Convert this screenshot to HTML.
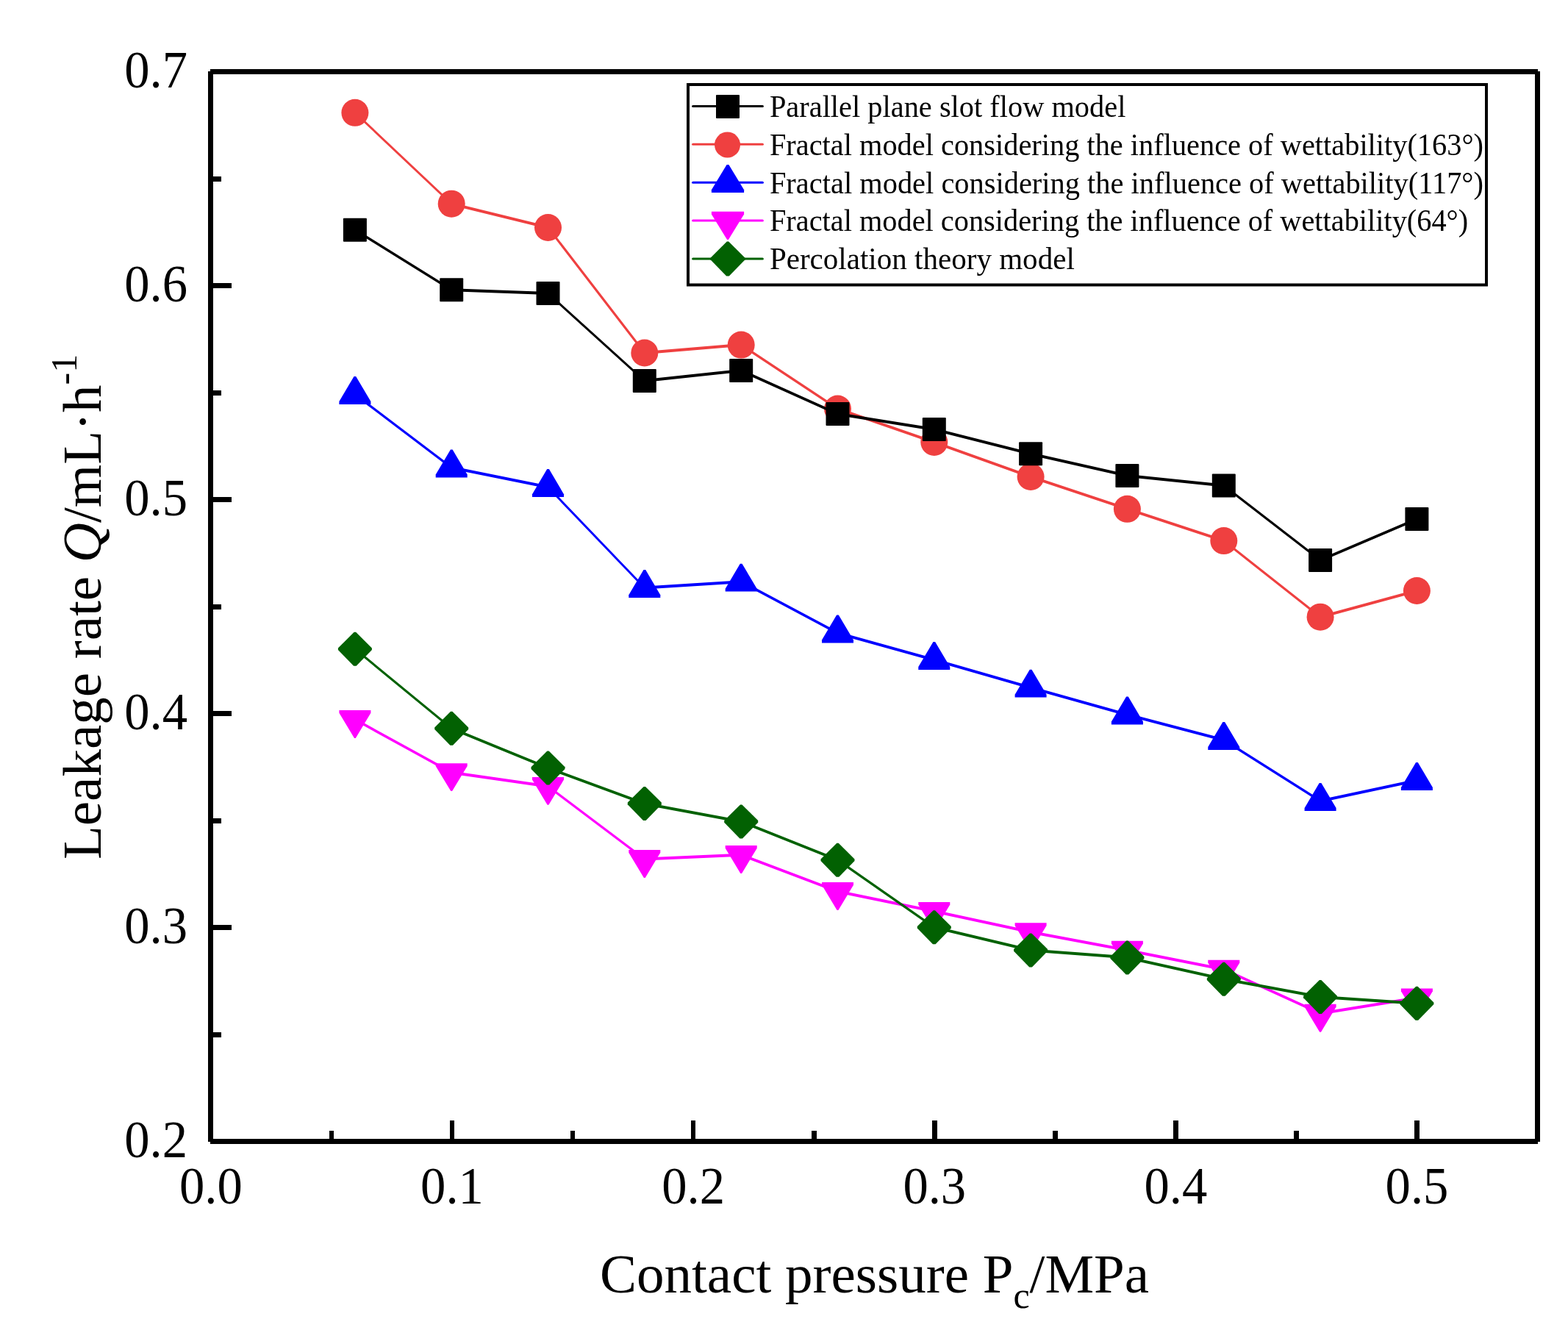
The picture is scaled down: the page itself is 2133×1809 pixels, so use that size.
<!DOCTYPE html>
<html><head><meta charset="utf-8"><title>Leakage rate vs contact pressure</title>
<style>
html,body{margin:0;padding:0;background:#fff;}
svg{display:block;}
text{font-family:"Liberation Serif","Times New Roman",serif;fill:#000;}
.t{font-size:71px;}
.ax{font-size:75px;}
.lg{font-size:41.7px;}
.sub{font-size:50px;}
</style></head>
<body>
<svg width="2133" height="1809" viewBox="0 0 2133 1809">
<rect width="2133" height="1809" fill="#fff"/>
<g fill="#000" shape-rendering="crispEdges">
<rect x="286" y="94" width="1806" height="7"/>
<rect x="286" y="1549" width="1806" height="7"/>
<rect x="283" y="97" width="7" height="1456"/>
<rect x="2088" y="97" width="7" height="1456"/>
<rect x="611.8" y="1524" width="6.5" height="25"/>
<rect x="939.9" y="1524" width="6.5" height="25"/>
<rect x="1268" y="1524" width="6.5" height="25"/>
<rect x="1596.2" y="1524" width="6.5" height="25"/>
<rect x="1924.3" y="1524" width="6.5" height="25"/>
<rect x="447.7" y="1537.5" width="6.5" height="11.5"/>
<rect x="775.8" y="1537.5" width="6.5" height="11.5"/>
<rect x="1104" y="1537.5" width="6.5" height="11.5"/>
<rect x="1432.1" y="1537.5" width="6.5" height="11.5"/>
<rect x="1760.2" y="1537.5" width="6.5" height="11.5"/>
<rect x="290" y="1258" width="25" height="7"/>
<rect x="290" y="967" width="25" height="7"/>
<rect x="290" y="676" width="25" height="7"/>
<rect x="290" y="385" width="25" height="7"/>
<rect x="290" y="1403.5" width="11" height="7"/>
<rect x="290" y="1112.5" width="11" height="7"/>
<rect x="290" y="821.5" width="11" height="7"/>
<rect x="290" y="530.5" width="11" height="7"/>
<rect x="290" y="239.5" width="11" height="7"/>
</g>
<path d="M482.9 151.3L614.2 275.2L614.2 279.2L482.9 155.3ZM614.2 275.2L745.5 307.5L745.5 311.5L614.2 279.2ZM743.5 309.5L874.8 480L878.8 480L747.5 309.5ZM876.8 478L1008.2 467.1L1008.2 471.1L876.8 482ZM1008.2 467.1L1139.5 554L1139.5 558L1008.2 471.1ZM1139.5 554L1270.8 599.4L1270.8 603.4L1139.5 558ZM1270.8 599.4L1402.1 646.5L1402.1 650.5L1270.8 603.4ZM1402.1 646.5L1533.4 690.3L1533.4 694.3L1402.1 650.5ZM1533.4 690.3L1664.8 733.6L1664.8 737.6L1533.4 694.3ZM1664.8 733.6L1796.1 837.2L1796.1 841.2L1664.8 737.6ZM1796.1 837.2L1927.4 801.5L1927.4 805.5L1796.1 841.2Z" fill="#EF4040"/>
<circle cx="482.9" cy="153.3" r="18.5" fill="#EF4040"/>
<circle cx="614.2" cy="277.2" r="18.5" fill="#EF4040"/>
<circle cx="745.5" cy="309.5" r="18.5" fill="#EF4040"/>
<circle cx="876.8" cy="480" r="18.5" fill="#EF4040"/>
<circle cx="1008.2" cy="469.1" r="18.5" fill="#EF4040"/>
<circle cx="1139.5" cy="556" r="18.5" fill="#EF4040"/>
<circle cx="1270.8" cy="601.4" r="18.5" fill="#EF4040"/>
<circle cx="1402.1" cy="648.5" r="18.5" fill="#EF4040"/>
<circle cx="1533.4" cy="692.3" r="18.5" fill="#EF4040"/>
<circle cx="1664.8" cy="735.6" r="18.5" fill="#EF4040"/>
<circle cx="1796.1" cy="839.2" r="18.5" fill="#EF4040"/>
<circle cx="1927.4" cy="803.5" r="18.5" fill="#EF4040"/>
<path d="M482.9 310.7L614.2 392.2L614.2 396.2L482.9 314.7ZM614.2 392.2L745.5 397.1L745.5 401.1L614.2 396.2ZM745.5 397.1L876.8 516L876.8 520L745.5 401.1ZM876.8 516L1008.2 501.9L1008.2 505.9L876.8 520ZM1008.2 501.9L1139.5 560.9L1139.5 564.9L1008.2 505.9ZM1139.5 560.9L1270.8 581.9L1270.8 585.9L1139.5 564.9ZM1270.8 581.9L1402.1 615.3L1402.1 619.3L1270.8 585.9ZM1402.1 615.3L1533.4 645L1533.4 649L1402.1 619.3ZM1533.4 645L1664.8 658.4L1664.8 662.4L1533.4 649ZM1664.8 658.4L1796.1 759.9L1796.1 763.9L1664.8 662.4ZM1796.1 759.9L1927.4 703.9L1927.4 707.9L1796.1 763.9Z" fill="#000000"/>
<rect x="466.9" y="296.7" width="32" height="32" rx="1" fill="#000000"/>
<rect x="598.2" y="378.2" width="32" height="32" rx="1" fill="#000000"/>
<rect x="729.5" y="383.1" width="32" height="32" rx="1" fill="#000000"/>
<rect x="860.8" y="502" width="32" height="32" rx="1" fill="#000000"/>
<rect x="992.2" y="487.9" width="32" height="32" rx="1" fill="#000000"/>
<rect x="1123.5" y="546.9" width="32" height="32" rx="1" fill="#000000"/>
<rect x="1254.8" y="567.9" width="32" height="32" rx="1" fill="#000000"/>
<rect x="1386.1" y="601.3" width="32" height="32" rx="1" fill="#000000"/>
<rect x="1517.4" y="631" width="32" height="32" rx="1" fill="#000000"/>
<rect x="1648.8" y="644.4" width="32" height="32" rx="1" fill="#000000"/>
<rect x="1780.1" y="745.9" width="32" height="32" rx="1" fill="#000000"/>
<rect x="1911.4" y="689.9" width="32" height="32" rx="1" fill="#000000"/>
<path d="M482.9 534.5L614.2 634L614.2 638L482.9 538.5ZM614.2 634L745.5 660.6L745.5 664.6L614.2 638ZM743.5 662.6L874.8 799.6L878.8 799.6L747.5 662.6ZM876.8 797.6L1008.2 789.2L1008.2 793.2L876.8 801.6ZM1008.2 789.2L1139.5 859L1139.5 863L1008.2 793.2ZM1139.5 859L1270.8 895.5L1270.8 899.5L1139.5 863ZM1270.8 895.5L1402.1 933.2L1402.1 937.2L1270.8 899.5ZM1402.1 933.2L1533.4 970L1533.4 974L1402.1 937.2ZM1533.4 970L1664.8 1004.5L1664.8 1008.5L1533.4 974ZM1664.8 1004.5L1796.1 1087.5L1796.1 1091.5L1664.8 1008.5ZM1796.1 1087.5L1927.4 1059.5L1927.4 1063.5L1796.1 1091.5Z" fill="#0000FF"/>
<path d="M481.5 512L484.2 512L504.4 546.1L504.4 549.9L461.4 549.9L461.4 546.1Z" fill="#0000FF"/>
<path d="M612.9 611.5L615.6 611.5L635.7 645.6L635.7 649.4L592.7 649.4L592.7 645.6Z" fill="#0000FF"/>
<path d="M744.2 638.1L746.9 638.1L767 672.2L767 676L724 676L724 672.2Z" fill="#0000FF"/>
<path d="M875.5 775.1L878.2 775.1L898.3 809.2L898.3 813L855.3 813L855.3 809.2Z" fill="#0000FF"/>
<path d="M1006.8 766.7L1009.5 766.7L1029.7 800.8L1029.7 804.6L986.7 804.6L986.7 800.8Z" fill="#0000FF"/>
<path d="M1138.1 836.5L1140.8 836.5L1161 870.6L1161 874.4L1118 874.4L1118 870.6Z" fill="#0000FF"/>
<path d="M1269.5 873L1272.1 873L1292.3 907.1L1292.3 910.9L1249.3 910.9L1249.3 907.1Z" fill="#0000FF"/>
<path d="M1400.8 910.7L1403.5 910.7L1423.6 944.8L1423.6 948.6L1380.6 948.6L1380.6 944.8Z" fill="#0000FF"/>
<path d="M1532.1 947.5L1534.8 947.5L1554.9 981.6L1554.9 985.4L1511.9 985.4L1511.9 981.6Z" fill="#0000FF"/>
<path d="M1663.4 982L1666.1 982L1686.3 1016.1L1686.3 1019.9L1643.3 1019.9L1643.3 1016.1Z" fill="#0000FF"/>
<path d="M1794.7 1065L1797.4 1065L1817.6 1099.1L1817.6 1102.9L1774.6 1102.9L1774.6 1099.1Z" fill="#0000FF"/>
<path d="M1926.1 1037L1928.8 1037L1948.9 1071.1L1948.9 1074.9L1905.9 1074.9L1905.9 1071.1Z" fill="#0000FF"/>
<path d="M482.9 976.6L614.2 1048.8L614.2 1052.8L482.9 980.6ZM614.2 1048.8L745.5 1067.5L745.5 1071.5L614.2 1052.8ZM745.5 1067.5L876.8 1166.6L876.8 1170.6L745.5 1071.5ZM876.8 1166.6L1008.2 1160.7L1008.2 1164.7L876.8 1170.6ZM1008.2 1160.7L1139.5 1210.6L1139.5 1214.6L1008.2 1164.7ZM1139.5 1210.6L1270.8 1237.5L1270.8 1241.5L1139.5 1214.6ZM1270.8 1237.5L1402.1 1265.8L1402.1 1269.8L1270.8 1241.5ZM1402.1 1265.8L1533.4 1290.4L1533.4 1294.4L1402.1 1269.8ZM1533.4 1290.4L1664.8 1316.4L1664.8 1320.4L1533.4 1294.4ZM1664.8 1316.4L1796.1 1376.4L1796.1 1380.4L1664.8 1320.4ZM1796.1 1376.4L1927.4 1355.2L1927.4 1359.2L1796.1 1380.4Z" fill="#FF00FF"/>
<path d="M461.4 966L504.4 966L504.4 969.7L483.8 1003.9L482 1003.9L461.4 969.7Z" fill="#FF00FF"/>
<path d="M592.7 1038.2L635.7 1038.2L635.7 1041.9L615.1 1076.1L613.3 1076.1L592.7 1041.9Z" fill="#FF00FF"/>
<path d="M724 1056.9L767 1056.9L767 1060.6L746.4 1094.8L744.6 1094.8L724 1060.6Z" fill="#FF00FF"/>
<path d="M855.3 1156L898.3 1156L898.3 1159.7L877.7 1193.9L875.9 1193.9L855.3 1159.7Z" fill="#FF00FF"/>
<path d="M986.7 1150.1L1029.7 1150.1L1029.7 1153.8L1009.1 1188L1007.3 1188L986.7 1153.8Z" fill="#FF00FF"/>
<path d="M1118 1200L1161 1200L1161 1203.7L1140.4 1237.9L1138.6 1237.9L1118 1203.7Z" fill="#FF00FF"/>
<path d="M1249.3 1226.9L1292.3 1226.9L1292.3 1230.6L1271.7 1264.8L1269.9 1264.8L1249.3 1230.6Z" fill="#FF00FF"/>
<path d="M1380.6 1255.2L1423.6 1255.2L1423.6 1258.9L1403 1293.1L1401.2 1293.1L1380.6 1258.9Z" fill="#FF00FF"/>
<path d="M1511.9 1279.8L1554.9 1279.8L1554.9 1283.5L1534.3 1317.7L1532.5 1317.7L1511.9 1283.5Z" fill="#FF00FF"/>
<path d="M1643.3 1305.8L1686.3 1305.8L1686.3 1309.5L1665.7 1343.7L1663.9 1343.7L1643.3 1309.5Z" fill="#FF00FF"/>
<path d="M1774.6 1365.8L1817.6 1365.8L1817.6 1369.5L1797 1403.7L1795.2 1403.7L1774.6 1369.5Z" fill="#FF00FF"/>
<path d="M1905.9 1344.6L1948.9 1344.6L1948.9 1348.3L1928.3 1382.5L1926.5 1382.5L1905.9 1348.3Z" fill="#FF00FF"/>
<path d="M482.9 880.8L614.2 988.8L614.2 992.8L482.9 884.8ZM614.2 988.8L745.5 1042.6L745.5 1046.6L614.2 992.8ZM745.5 1042.6L876.8 1090.9L876.8 1094.9L745.5 1046.6ZM876.8 1090.9L1008.2 1115.4L1008.2 1119.4L876.8 1094.9ZM1008.2 1115.4L1139.5 1167.8L1139.5 1171.8L1008.2 1119.4ZM1139.5 1167.8L1270.8 1259.3L1270.8 1263.3L1139.5 1171.8ZM1270.8 1259.3L1402.1 1290.4L1402.1 1294.4L1270.8 1263.3ZM1402.1 1290.4L1533.4 1300.4L1533.4 1304.4L1402.1 1294.4ZM1533.4 1300.4L1664.8 1329.7L1664.8 1333.7L1533.4 1304.4ZM1664.8 1329.7L1796.1 1354L1796.1 1358L1664.8 1333.7ZM1796.1 1354L1927.4 1362.8L1927.4 1366.8L1796.1 1358Z" fill="#026102"/>
<path d="M481.7 859.8L484.1 859.8L505.9 881.5L505.9 884.1L484.7 905.8L481.1 905.8L459.9 884.1L459.9 881.5Z" fill="#026102"/>
<path d="M613 967.8L615.4 967.8L637.2 989.5L637.2 992.1L616 1013.8L612.4 1013.8L591.2 992.1L591.2 989.5Z" fill="#026102"/>
<path d="M744.3 1021.6L746.7 1021.6L768.5 1043.3L768.5 1045.9L747.3 1067.6L743.7 1067.6L722.5 1045.9L722.5 1043.3Z" fill="#026102"/>
<path d="M875.6 1069.9L878 1069.9L899.8 1091.6L899.8 1094.2L878.6 1115.9L875 1115.9L853.8 1094.2L853.8 1091.6Z" fill="#026102"/>
<path d="M1007 1094.4L1009.4 1094.4L1031.2 1116.1L1031.2 1118.7L1010 1140.4L1006.4 1140.4L985.2 1118.7L985.2 1116.1Z" fill="#026102"/>
<path d="M1138.3 1146.8L1140.7 1146.8L1162.5 1168.5L1162.5 1171.1L1141.3 1192.8L1137.7 1192.8L1116.5 1171.1L1116.5 1168.5Z" fill="#026102"/>
<path d="M1269.6 1238.3L1272 1238.3L1293.8 1260L1293.8 1262.6L1272.6 1284.3L1269 1284.3L1247.8 1262.6L1247.8 1260Z" fill="#026102"/>
<path d="M1400.9 1269.4L1403.3 1269.4L1425.1 1291.1L1425.1 1293.7L1403.9 1315.4L1400.3 1315.4L1379.1 1293.7L1379.1 1291.1Z" fill="#026102"/>
<path d="M1532.2 1279.4L1534.6 1279.4L1556.4 1301.1L1556.4 1303.7L1535.2 1325.4L1531.6 1325.4L1510.4 1303.7L1510.4 1301.1Z" fill="#026102"/>
<path d="M1663.6 1308.7L1666 1308.7L1687.8 1330.4L1687.8 1333L1666.6 1354.7L1663 1354.7L1641.8 1333L1641.8 1330.4Z" fill="#026102"/>
<path d="M1794.9 1333L1797.3 1333L1819.1 1354.7L1819.1 1357.3L1797.9 1379L1794.3 1379L1773.1 1357.3L1773.1 1354.7Z" fill="#026102"/>
<path d="M1926.2 1341.8L1928.6 1341.8L1950.4 1363.5L1950.4 1366.1L1929.2 1387.8L1925.6 1387.8L1904.4 1366.1L1904.4 1363.5Z" fill="#026102"/>
<text x="255" y="1574" text-anchor="end" class="t" textLength="85.82" lengthAdjust="spacingAndGlyphs">0.2</text>
<text x="255" y="1283" text-anchor="end" class="t" textLength="85.82" lengthAdjust="spacingAndGlyphs">0.3</text>
<text x="255" y="992" text-anchor="end" class="t" textLength="85.82" lengthAdjust="spacingAndGlyphs">0.4</text>
<text x="255" y="701" text-anchor="end" class="t" textLength="85.82" lengthAdjust="spacingAndGlyphs">0.5</text>
<text x="255" y="410" text-anchor="end" class="t" textLength="85.82" lengthAdjust="spacingAndGlyphs">0.6</text>
<text x="255" y="119" text-anchor="end" class="t" textLength="85.82" lengthAdjust="spacingAndGlyphs">0.7</text>
<text x="286.9" y="1637" text-anchor="middle" class="t" textLength="85.82" lengthAdjust="spacingAndGlyphs">0.0</text>
<text x="615" y="1637" text-anchor="middle" class="t" textLength="85.82" lengthAdjust="spacingAndGlyphs">0.1</text>
<text x="943.1" y="1637" text-anchor="middle" class="t" textLength="85.82" lengthAdjust="spacingAndGlyphs">0.2</text>
<text x="1271.3" y="1637" text-anchor="middle" class="t" textLength="85.82" lengthAdjust="spacingAndGlyphs">0.3</text>
<text x="1599.4" y="1637" text-anchor="middle" class="t" textLength="85.82" lengthAdjust="spacingAndGlyphs">0.4</text>
<text x="1927.5" y="1637" text-anchor="middle" class="t" textLength="85.82" lengthAdjust="spacingAndGlyphs">0.5</text>
<text x="816" y="1758" class="ax">Contact pressure P<tspan class="sub" dy="21">c</tspan><tspan dy="-21">/MPa</tspan></text>
<text transform="translate(136.5,1169) rotate(-90)" class="ax">Leakage rate <tspan font-style="italic">Q</tspan>/mL·h<tspan class="sub" dy="-33">-1</tspan></text>
<rect x="936" y="115" width="1086" height="272.5" fill="#fff" stroke="#000" stroke-width="4"/>
<line x1="942.6" y1="144.4" x2="1037.4" y2="144.4" stroke="#000000" stroke-width="3" stroke-linecap="round"/>
<rect x="974" y="129" width="32" height="32" rx="1" fill="#000000"/>
<text x="1046.9" y="159" class="lg" textLength="484.5" lengthAdjust="spacingAndGlyphs">Parallel plane slot flow model</text>
<line x1="942.6" y1="196.3" x2="1037.4" y2="196.3" stroke="#EF4040" stroke-width="3" stroke-linecap="round"/>
<circle cx="989.5" cy="197" r="17.5" fill="#EF4040"/>
<text x="1046.9" y="210.8" class="lg" textLength="971.1" lengthAdjust="spacingAndGlyphs">Fractal model considering the influence of wettability(163°)</text>
<line x1="942.6" y1="248.2" x2="1037.4" y2="248.2" stroke="#0000FF" stroke-width="3" stroke-linecap="round"/>
<path d="M988.6 223.9L991.4 223.9L1012.1 258.2L1012.1 262L967.9 262L967.9 258.2Z" fill="#0000FF"/>
<text x="1046.9" y="262.6" class="lg" textLength="971.1" lengthAdjust="spacingAndGlyphs">Fractal model considering the influence of wettability(117°)</text>
<line x1="942.6" y1="300.1" x2="1037.4" y2="300.1" stroke="#FF00FF" stroke-width="3" stroke-linecap="round"/>
<path d="M967.9 287.8L1012.1 287.8L1012.1 291.5L990.9 325.9L989.1 325.9L967.9 291.5Z" fill="#FF00FF"/>
<text x="1046.9" y="314.4" class="lg" textLength="950.3" lengthAdjust="spacingAndGlyphs">Fractal model considering the influence of wettability(64°)</text>
<line x1="942.6" y1="352" x2="1037.4" y2="352" stroke="#026102" stroke-width="3" stroke-linecap="round"/>
<path d="M988.8 328.5L991.2 328.5L1013.5 350.7L1013.5 353.3L991.8 375.5L988.2 375.5L966.5 353.3L966.5 350.7Z" fill="#026102"/>
<text x="1046.9" y="366.2" class="lg" textLength="414.9" lengthAdjust="spacingAndGlyphs">Percolation theory model</text>
</svg>
</body></html>
